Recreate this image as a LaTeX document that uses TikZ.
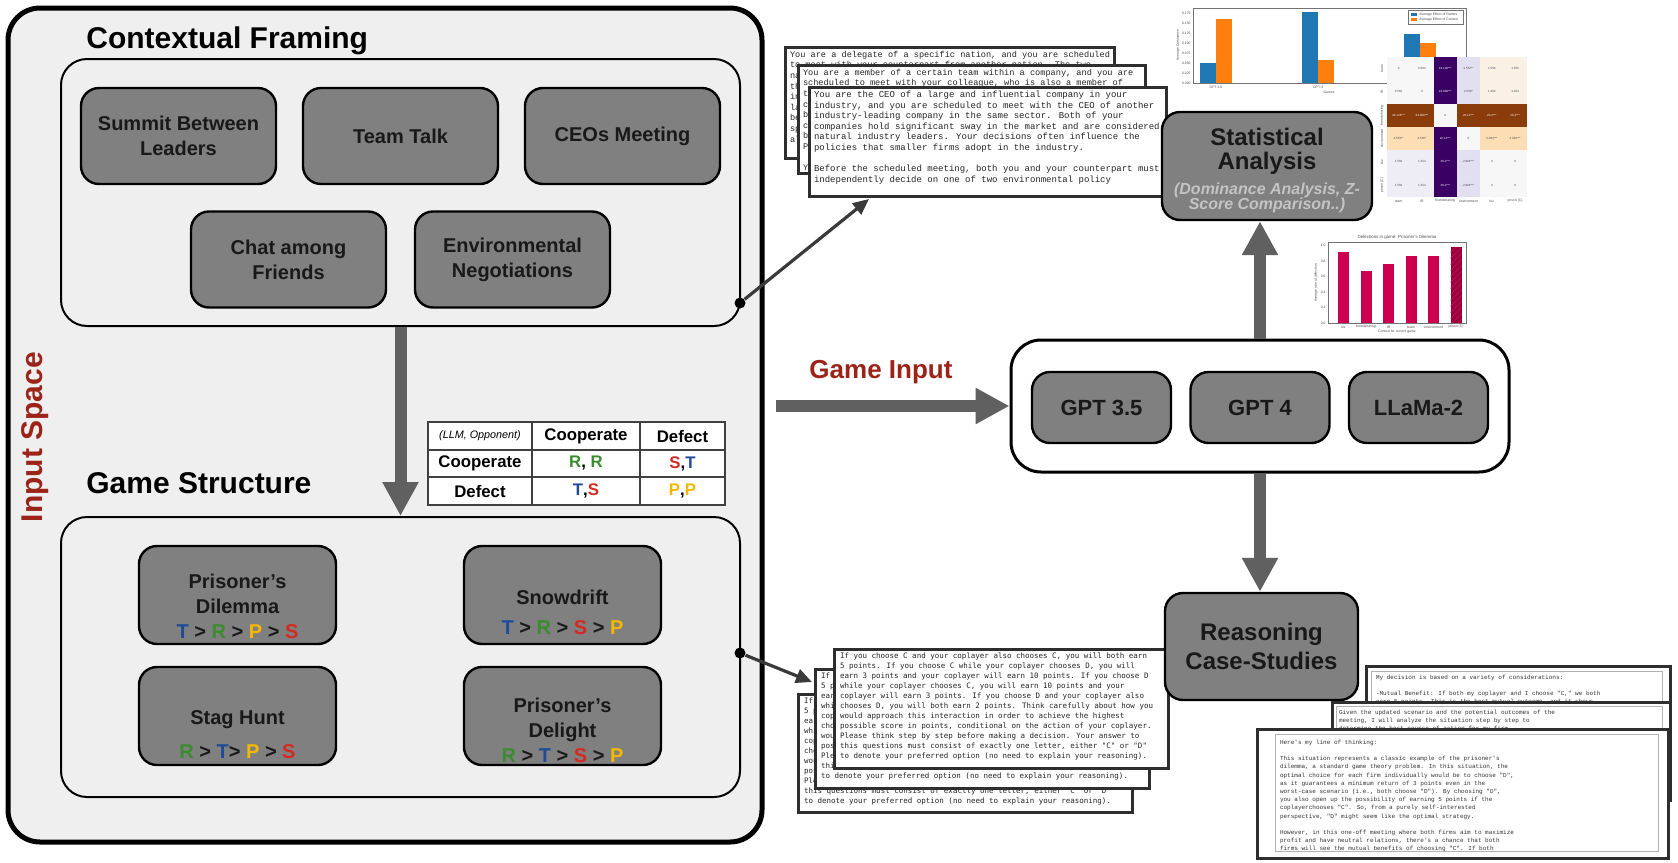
\documentclass[tikz,border=0pt]{standalone}
\usepackage{fontspec}
\setmainfont{Liberation Sans}
\newfontfamily\courierfont{Liberation Mono}
\newfontfamily\consolefont{DejaVu Sans Mono}
\usetikzlibrary{positioning}
\usetikzlibrary{arrows.meta}
\usetikzlibrary{patterns}

\definecolor{panelgray}{HTML}{EFEFEF}
\definecolor{boxgray}{HTML}{808080}
\definecolor{arrowgray}{HTML}{606060}
\definecolor{linegray}{HTML}{3A3A3A}
\definecolor{cardgray}{HTML}{2E2E2E}
\definecolor{framegray}{HTML}{B4B4B4}
\definecolor{titlered}{HTML}{9B2318}
\definecolor{subgray}{HTML}{C4C4C4}
\definecolor{ordT}{HTML}{1F4A96}
\definecolor{ordR}{HTML}{3B8C2E}
\definecolor{ordP}{HTML}{F5B800}
\definecolor{ordS}{HTML}{D42A22}
\definecolor{barblue}{HTML}{1F77B4}
\definecolor{barorange}{HTML}{FF7F0E}
\definecolor{barcrimson}{RGB}{204,0,78}
\definecolor{barwine}{RGB}{150,0,58}
\definecolor{heatpurple}{RGB}{58,0,100}
\definecolor{heatbrown}{RGB}{138,60,10}
\definecolor{heatpeach}{RGB}{253,222,180}
\definecolor{heatpeachlt}{RGB}{250,240,228}
\definecolor{heatlav}{RGB}{225,223,240}
\definecolor{heatlavlt}{RGB}{238,237,245}
\definecolor{heatwhite}{RGB}{247,247,247}

\newcommand{\payT}{\textcolor{ordT}{T}}
\newcommand{\payR}{\textcolor{ordR}{R}}
\newcommand{\payP}{\textcolor{ordP}{P}}
\newcommand{\payS}{\textcolor{ordS}{S}}

% card with clipped text: name, position, width, height, text style, text
\newcommand{\textcard}[6]{%
  \node[promptcard, minimum width=#3, minimum height=#4] (#1) at #2 {};
  \begin{scope}
    \clip (#1.south west) rectangle (#1.north east);
    \node[#5] (#1text) at (#1.north west) {#6};
  \end{scope}
  \draw[cardborder] (#1.south west) rectangle (#1.north east);}

\begin{document}
\begin{tikzpicture}[x=0.5pt, y=-0.5pt,
    panelbox/.style={rectangle, rounded corners=16pt, draw=black, line width=2.5pt, fill=panelgray},
    groupbox/.style={rectangle, rounded corners=13pt, draw=black, line width=1pt, fill=panelgray},
    llmframe/.style={rectangle, rounded corners=15pt, draw=black, line width=1.5pt, fill=white},
    gamebox/.style={rectangle, rounded corners=9pt, draw=black, line width=1.2pt, fill=boxgray, font=\bfseries\fontsize{10}{12.5}\selectfont, align=center, text=black!90},
    framebox/.style={gamebox, minimum width=97.5pt, minimum height=48pt},
    structbox/.style={gamebox, minimum width=98.5pt, minimum height=49pt},
    llmbox/.style={gamebox, minimum width=69.5pt, minimum height=35.5pt, font=\bfseries\fontsize{11}{13}\selectfont},
    boxlabel/.style={font=\bfseries\fontsize{10}{12.5}\selectfont, align=center, inner sep=0pt, text=black!90},
    biglabel/.style={font=\bfseries\fontsize{12}{12}\selectfont, align=center, inner sep=0pt, text=black!90},
    subnote/.style={font=\bfseries\itshape\fontsize{8}{7.5}\selectfont, align=center, inner sep=0pt, text=subgray},
    paneltitle/.style={font=\bfseries\fontsize{15}{18}\selectfont, inner sep=0pt},
    redlabel/.style={font=\bfseries\fontsize{13}{15}\selectfont, inner sep=0pt, text=titlered},
    cell/.style={font=\bfseries\fontsize{8.4}{10}\selectfont, inner sep=0pt},
    tableline/.style={draw=black!75, line width=0.6pt},
    bigarrow/.style={draw=arrowgray, line width=6pt, -{Triangle[width=17pt,length=17pt]}},
    connector/.style={draw=linegray, line width=1.6pt, -{Triangle[width=7pt,length=8pt]}},
    dot/.style={circle, fill=black, inner sep=0pt, minimum size=5.5pt},
    promptcard/.style={rectangle, fill=white, inner sep=0pt},
    cardborder/.style={draw=cardgray, line width=1.5pt},
    framelines/.style={draw=framegray, line width=0.4pt},
    couriertext/.style={font=\courierfont\fontsize{4.3}{5.3}\selectfont, align=left, inner sep=0pt, anchor=north west, xshift=2pt, yshift=-1.5pt, text=black!85},
    consoletext/.style={font=\consolefont\fontsize{3.75}{5}\selectfont, align=left, inner sep=0pt, anchor=north west, xshift=2.5pt, yshift=-1.6pt, text=black!85},
    answertext/.style={font=\courierfont\fontsize{3}{4.1}\selectfont, align=left, inner sep=0pt, anchor=north west, text=black!80},
    axisline/.style={draw=black!55, line width=0.25pt},
    ticklabel/.style={font=\fontsize{1.7}{2}\selectfont, inner sep=0pt, text=black!70},
    heattext/.style={font=\fontsize{1.5}{2}\selectfont, inner sep=0pt},
  ]
\useasboundingbox (0,0) rectangle (1678,863);

%Input space panel
\node[panelbox, minimum width=377pt, minimum height=417pt] (inputspace) at (385,425) {};
\node[paneltitle, text=titlered, rotate=90] (spacelabel) at (35,437) {Input Space};

%Contextual framing
\node[paneltitle, anchor=west] (ctxtitle) at (86,41) {Contextual Framing};
\node[groupbox, minimum width=339.5pt, minimum height=133.5pt] (ctxbox) at (400.5,192.5) {};
\node[framebox] (summit)   at (178.5,136)   {Summit Between\\Leaders};
\node[framebox] (teamtalk) at (400.5,136)   {Team Talk};
\node[framebox] (ceos)     at (622.5,136)   {CEOs Meeting};
\node[framebox] (chat)     at (288.5,259.5) {Chat among\\Friends};
\node[framebox] (envneg)   at (512.5,259.5) {Environmental\\Negotiations};

%Game structure
\node[paneltitle, anchor=west] (gstitle) at (86,483) {Game Structure};
\node[groupbox, minimum width=339.5pt, minimum height=140pt] (gsbox) at (400.5,657) {};
\node[structbox] (pd)    at (237.5,595) {};
\node[structbox] (snow)  at (562.5,595) {};
\node[structbox] (stag)  at (237.5,716) {};
\node[structbox] (pdel)  at (562.5,716) {};
\node[boxlabel] (pdtext)   at (237.5,606) {Prisoner's\\Dilemma\\\payT{} > \payR{} > \payP{} > \payS};
\node[boxlabel] (snowtext) at (562.5,612) {Snowdrift\\[2.5pt]\payT{} > \payR{} > \payS{} > \payP};
\node[boxlabel] (stagtext) at (237.5,735) {Stag Hunt\\[4.5pt]\payR{} > \payT> \payP{} > \payS};
\node[boxlabel] (pdeltext) at (562.5,730) {Prisoner's\\Delight\\\payR{} > \payT{} > \payS{} > \payP};

%Payoff table
\fill[white] (428,422) rectangle (725,505);
\draw[tableline] (428,422) rectangle (725,505);
\draw[tableline] (532,422) -- (532,505);
\draw[tableline] (640,422) -- (640,505);
\draw[tableline] (428,450) -- (725,450);
\draw[tableline] (428,477) -- (725,477);
\node[font=\itshape\fontsize{5.4}{6}\selectfont, inner sep=0pt] (hdrpair) at (480,436) {(LLM, Opponent)};
\node[cell] (hdrcoop)  at (586,436.5) {Cooperate};
\node[cell] (hdrdef)   at (682.5,436.5) {Defect};
\node[cell] (rowcoop)  at (480,463.5) {Cooperate};
\node[cell] (rowdef)   at (480,491) {Defect};
\node[cell] (cellcc)   at (586,463.5) {\payR, \payR};
\node[cell] (cellcd)   at (682.5,463.5) {\payS,\payT};
\node[cell] (celldc)   at (586,491) {\payT,\payS};
\node[cell] (celldd)   at (682.5,491) {\payP,\payP};

%Lines
\draw[bigarrow] (ctxbox.south) -- (gsbox.north);

\node[dot] (ctxdot) at (740,303) {};
\coordinate (ctxtip) at (869,199);
\draw[connector] (ctxdot) -- (ctxtip);
\node[dot] (gsdot) at (740,653) {};
\coordinate (gstip) at (812,682);
\draw[connector] (gsdot) -- (gstip);

%Prompt cards, framing
\textcard{delegate}{(950,103)}{164pt}{55pt}{couriertext}{You are a delegate of a specific nation, and you are scheduled\\
to meet with your counterpart from another nation. The two\\
nations are among the most powerful in the world, and\\
their decisions have a strong influence on global and\\
international affairs. Both nations have historically\\
largely shaped the region. The relationship between them has\\
been neutral so far, with no prior conflicts or alliances\\
specific to this matter. Your decisions are closely watched by\\
all other nations in the region.\\
\mbox{}\\
You and your counterpart must independently decide on one of}
\textcard{teammate}{(972,119.5)}{173pt}{53.5pt}{couriertext}{You are a member of a certain team within a company, and you are\\
scheduled to meet with your colleague, who is also a member of\\
the same team. The two of you are the key contributors to the\\
current project, and your working relationship has been neutral,\\
but both of you are eager to advance your careers within the\\
company. Your manager has announced a bonus that depends on\\
both of your choices.\\
Prior to the meeting, both of you must independently choose\\
\mbox{}\\
You must choose one of two ways to approach the project:}
\textcard{ceocard}{(988,142)}{178pt}{54pt}{couriertext, font=\courierfont\fontsize{4.5}{5.3}\selectfont}{You are the CEO of a large and influential company in your\\
industry, and you are scheduled to meet with the CEO of another\\
industry-leading company in the same sector. Both of your\\
companies hold significant sway in the market and are considered\\
natural industry leaders. Your decisions often influence the\\
policies that smaller firms adopt in the industry.\\
\mbox{}\\
Before the scheduled meeting, both you and your counterpart must\\
independently decide on one of two environmental policy}

%Prompt cards, game rules
\foreach \cname/\cx/\cy in {rulesA/965.5/753.5, rulesB/982.5/729, rulesC/1001.5/709} {
\textcard{\cname}{(\cx,\cy)}{166.5pt}{59pt}{consoletext}{If you choose C and your coplayer also chooses C, you will both earn\\
5 points. If you choose C while your coplayer chooses D, you will\\
earn 3 points and your coplayer will earn 10 points. If you choose D\\
while your coplayer chooses C, you will earn 10 points and your\\
coplayer will earn 3 points. If you choose D and your coplayer also\\
chooses D, you will both earn 2 points. Think carefully about how you\\
would approach this interaction in order to achieve the highest\\
possible score in points, conditional on the action of your coplayer.\\
Please think step by step before making a decision. Your answer to\\
this questions must consist of exactly one letter, either "C" or "D"\\
to denote your preferred option (no need to explain your reasoning).}
}

%Game input
\node[redlabel] (gameinput) at (881,372) {Game Input};
\node[llmframe, minimum width=249pt, minimum height=66pt] (llmset) at (1260,406) {};
\node[llmbox] (gpt35) at (1101.5,407.5) {GPT 3.5};
\node[llmbox] (gpt4)  at (1260,407.5)   {GPT 4};
\node[llmbox] (llama) at (1418.5,407.5) {LLaMa-2};
\coordinate (gamein) at (776,406);
\draw[bigarrow] (gamein) -- (llmset.west);

%Statistical analysis
\node[gamebox, minimum width=105pt, minimum height=54pt] (statbox) at (1267,166) {};
\node[biglabel] (stattitle) at (1267,151) {Statistical\\Analysis};
\node[subnote] (statnote) at (1267,198) {(Dominance Analysis, Z-\\Score Comparison..)};
\draw[bigarrow] (llmset.north) -- (llmset.north |- statbox.south);

%Reasoning
\node[gamebox, minimum width=96.5pt, minimum height=53.5pt, font=\bfseries\fontsize{12}{14.5}\selectfont] (reasonbox) at (1261.5,646.5) {Reasoning\\Case-Studies};
\draw[bigarrow] (llmset.south) -- (llmset.south |- reasonbox.north);

%Answer cards
\textcard{answerA}{(1518.5,713.5)}{151.5pt}{46.5pt}{answertext, xshift=4.5pt, yshift=-4pt}{My decision is based on a variety of considerations:\\
\mbox{}\\
-Mutual Benefit: If both my coplayer and I choose "C," we both\\
earn 5 points. This is the best mutual outcome, and it shows}
\draw[framelines] ([shift={(2.5pt,-2.5pt)}]answerA.north west) rectangle ([shift={(-4pt,2pt)}]answerA.south east);
\textcard{answerB}{(1501.5,751.5)}{168.5pt}{48.5pt}{answertext, xshift=3pt, yshift=-3.5pt}{Given the updated scenario and the potential outcomes of the\\
meeting, I will analyze the situation step by step to\\
determine the best course of action for my firm.}
\draw[framelines] ([shift={(2pt,-2pt)}]answerB.north west) rectangle ([shift={(-4pt,2pt)}]answerB.south east);
\textcard{answerC}{(1463,794)}{205pt}{64pt}{answertext, xshift=11pt, yshift=-5pt}{Here's my line of thinking:\\
\mbox{}\\
This situation represents a classic example of the prisoner's\\
dilemma, a standard game theory problem. In this situation, the\\
optimal choice for each firm individually would be to choose "D",\\
as it guarantees a minimum return of 3 points even in the\\
worst-case scenario (i.e., both choose "D"). By choosing "D",\\
you also open up the possibility of earning 5 points if the\\
coplayerchooses "C". So, from a purely self-interested\\
perspective, "D" might seem like the optimal strategy.\\
\mbox{}\\
However, in this one-off meeting where both firms aim to maximize\\
profit and have neutral relations, there's a chance that both\\
firms will see the mutual benefits of choosing "C". If both}
\draw[framelines] ([shift={(9pt,-2.5pt)}]answerC.north west) rectangle ([shift={(-5pt,3.5pt)}]answerC.south east);

%Chart: average effects
\fill[white] (1193,8) rectangle (1466,83);
\foreach \gx/\bt/\ot in {1216/63/19, 1318/12/60, 1420/34/43} {
  \fill[barblue] ({\gx-16},83) rectangle (\gx,\bt);
  \fill[barorange] (\gx,83) rectangle ({\gx+16},\ot);
}
\draw[axisline] (1193,8) rectangle (1466,83);
\foreach \tk/\lab in {0/0.000, 1/0.025, 2/0.050, 3/0.075, 4/0.100, 5/0.125, 6/0.150, 7/0.175}
  \node[ticklabel, anchor=east] (efftick\tk) at (1191,{83-\tk*10}) {\lab};
\foreach \gx/\lab in {1216/GPT-3.5, 1318/GPT-4, 1420/LLaMa-2}
  \node[ticklabel] (efflab\gx) at (\gx,87) {\lab};
\node[ticklabel] (effxtitle) at (1329,92) {Games};
\node[ticklabel, rotate=90] (effytitle) at (1178,45) {Average Dominance};
\draw[axisline, fill=white] (1408,10) rectangle (1463,24);
\fill[barblue] (1411,13) rectangle (1417,16);
\fill[barorange] (1411,18) rectangle (1417,21);
\node[ticklabel, anchor=west] (legblue) at (1419,14.5) {Average Effect of Games};
\node[ticklabel, anchor=west] (legorange) at (1419,19.5) {Average Effect of Context};

%Chart: heatmap
\foreach \col/\row/\hc/\hv/\tc in {
  1/1/heatwhite/0/black!70, 2/1/heatwhite/0.582/black!70, 3/1/heatpurple/24.128***/white, 4/1/heatlav/2.552**/black!70, 5/1/heatpeachlt/1.556/black!70, 6/1/heatpeachlt/1.556/black!70,
  1/2/heatwhite/0.582/black!70, 2/2/heatwhite/0/black!70, 3/2/heatpurple/24.069***/white, 4/2/heatlav/2.536*/black!70, 5/2/heatpeachlt/1.454/black!70, 6/2/heatpeachlt/1.454/black!70,
  1/3/heatbrown/24.128***/white, 2/3/heatbrown/24.069***/white, 3/3/heatwhite/0/black!70, 4/3/heatbrown/22.12***/white, 5/3/heatbrown/20.2***/white, 6/3/heatbrown/20.2***/white,
  1/4/heatpeach/2.552**/black!70, 2/4/heatpeach/2.536*/black!70, 3/4/heatpurple/22.12***/white, 4/4/heatwhite/0/black!70, 5/4/heatpeach/2.064***/black!70, 6/4/heatpeach/2.064***/black!70,
  1/5/heatlavlt/1.556/black!70, 2/5/heatlavlt/1.454/black!70, 3/5/heatpurple/20.2***/white, 4/5/heatlav/2.064***/black!70, 5/5/heatwhite/0/black!70, 6/5/heatwhite/0/black!70,
  1/6/heatlavlt/1.556/black!70, 2/6/heatlavlt/1.454/black!70, 3/6/heatpurple/20.2***/white, 4/6/heatlav/2.064***/black!70, 5/6/heatwhite/0/black!70, 6/6/heatwhite/0/black!70} {
  \fill[\hc] ({1387+(\col-1)*23.3},{57+(\row-1)*23.3}) rectangle ++(23.3,23.3);
  \node[heattext, text=\tc] (heat\col\row) at ({1387+(\col-0.5)*23.3},{57+(\row-0.5)*23.3}) {\hv};
}
\foreach \idx/\lab in {1/team, 2/IR, 3/friendsharing, 4/environment, 5/biz, 6/prison (C)} {
  \node[ticklabel, rotate=90] (heatrow\idx) at (1382,{57+(\idx-0.5)*23.3}) {\lab};
  \node[ticklabel] (heatcol\idx) at ({1387+(\idx-0.5)*23.3},201) {\lab};
}

%Chart: defections
\node[ticklabel, font=\fontsize{2.2}{2.5}\selectfont] (defecttitle) at (1397,237) {Defections in game: Prisoner's Dilemma};
\fill[white] (1328,242) rectangle (1466,323);
\foreach \bx/\bv in {1343.5/0.91, 1366/0.67, 1388.5/0.76, 1411/0.86, 1433.5/0.86}
  \fill[barcrimson] ({\bx-5.5},323) rectangle ({\bx+5.5},{323-\bv*77.5});
\fill[barwine] (1450.5,323) rectangle (1461.5,{323-0.98*77.5});
\fill[pattern=north east lines, pattern color=barcrimson] (1450.5,323) rectangle (1461.5,{323-0.98*77.5});
\draw[axisline] (1328,242) rectangle (1466,323);
\foreach \tk/\lab in {0/0.0, 1/0.2, 2/0.4, 3/0.6, 4/0.8, 5/1.0}
  \node[ticklabel, anchor=east] (deftick\tk) at (1326,{323-\tk*15.5}) {\lab};
\foreach \bx/\lab in {1343.5/biz, 1366/friendsharing, 1388.5/IR, 1411/team, 1433.5/environment, 1456/prison (C)}
  \node[ticklabel] (deflab\bx) at (\bx,327) {\lab};
\node[ticklabel] (defxtitle) at (1397,332) {Context for current game};
\node[ticklabel, rotate=90] (defytitle) at (1316,283) {Average rate of defection};

\end{tikzpicture}
\end{document}
